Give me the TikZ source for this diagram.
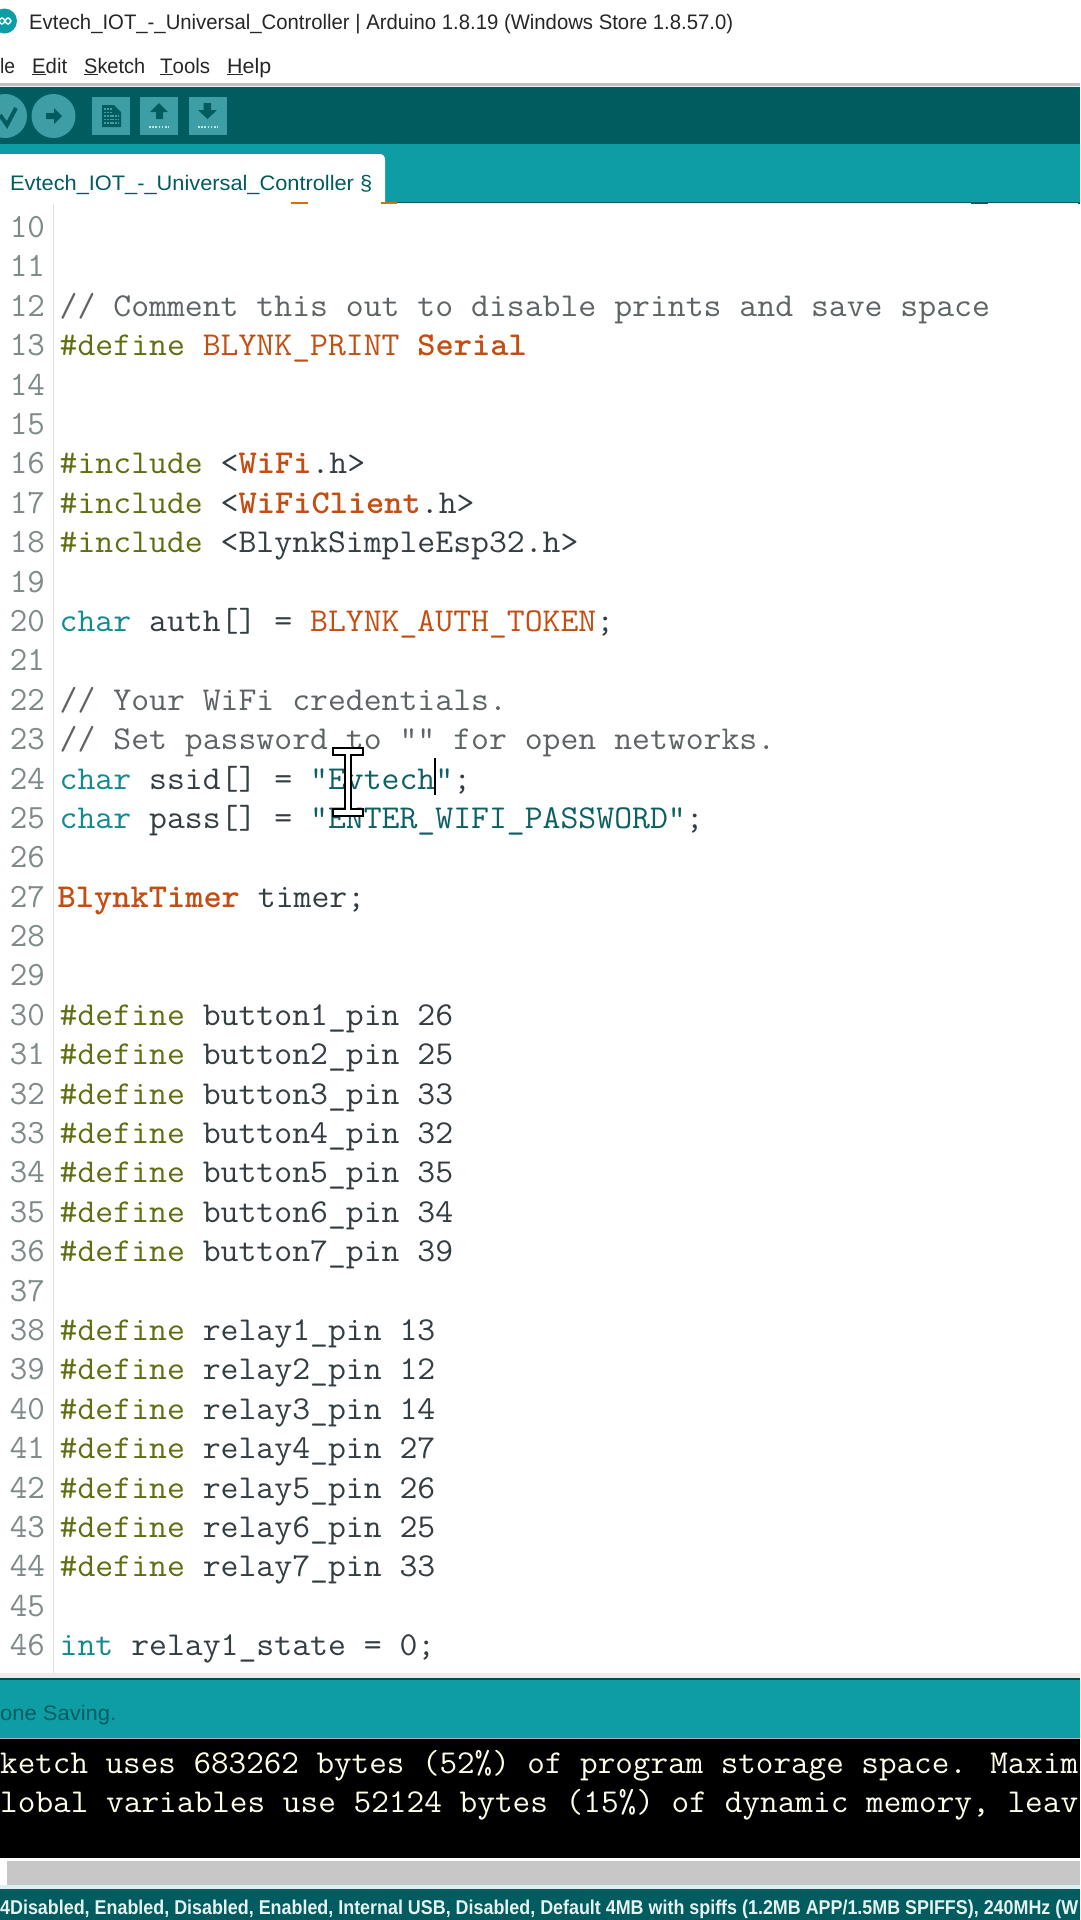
\documentclass[tikz,border=0pt]{standalone}
\usepackage{fontspec}
\usepackage{graphicx}
\setmainfont{Liberation Sans}
\definecolor{tealdark}{HTML}{005C5F}
\definecolor{tealmain}{HTML}{0F9DA5}
\definecolor{tealbtn}{HTML}{3D9FA5}
\definecolor{cdark}{HTML}{333D42}
\definecolor{ccomment}{HTML}{5E6466}
\definecolor{cnum}{HTML}{808A8A}
\definecolor{colive}{HTML}{5F6E10}
\definecolor{corange}{HTML}{C44E12}
\definecolor{cteal}{HTML}{118A90}
\definecolor{cstr}{HTML}{0F6062}
\newcommand{\fitw}[2]{\resizebox{#1pt}{\height}{#2}}
\newcommand{\Cm}[1]{\textcolor{ccomment}{#1}}
\newcommand{\Def}[1]{\textcolor{colive}{#1}}
\newcommand{\Org}[1]{\textcolor{corange}{#1}}
\newcommand{\Bld}[1]{\textcolor{corange}{\bfseries #1}}
\newcommand{\Tl}[1]{\textcolor{cteal}{#1}}
\newcommand{\Str}[1]{\textcolor{cstr}{#1}}
\newcommand{\codeline}[2]{%
  \node[numtext] (num#1) at (45,{789+(#1-24)*39.39}) {#1};
  \node[codetext] (code#1) at (59.5,{789+(#1-24)*39.39}) {\scalebox{1.04}[1]{#2}};}
\tikzset{
  numtext/.style={anchor=base east,inner sep=0,text=cnum,font=\ttfamily\fontsize{34}{36}\selectfont},
  codetext/.style={anchor=base west,inner sep=0,text=cdark,font=\ttfamily\fontsize{33.4}{36}\selectfont},
  consoletext/.style={anchor=base west,inner sep=0,text=white!90!yellow,font=\ttfamily\fontsize{33.4}{36}\selectfont},
  uitext/.style={anchor=base west,inner sep=0,text=black!85,font=\fontsize{21}{24}\selectfont},
  toolbtn/.style={fill=tealbtn,draw=none},
  toolicon/.style={fill=tealdark,draw=none}
}
\begin{document}
\begin{tikzpicture}[x=1pt,y=-1pt]
\useasboundingbox (0,0) rectangle (1080,1920);
\clip (0,0) rectangle (1080,1920);
\fill[white] (0,0) rectangle (1080,1920);
% title bar
\fill[tealmain] (4.5,21) circle (12.5);
\draw[white,line width=1.4] (-1,21) .. controls (1,17) and (3,17) .. (5,21) .. controls (7,25) and (9,25) .. (11,21) .. controls (9,17) and (7,17) .. (5,21) .. controls (3,25) and (1,25) .. (-1,21);
\node[uitext] (title) at (29,29) {\fitw{704}{Evtech\_IOT\_-\_Universal\_Controller | Arduino 1.8.19 (Windows Store 1.8.57.0)}};
% menu
\node[uitext] (mfile) at (0,73) {\fitw{15}{le}};
\node[uitext] (medit) at (32,73) {\fitw{35}{\underline{E}dit}};
\node[uitext] (msketch) at (84,73) {\fitw{61}{\underline{S}ketch}};
\node[uitext] (mtools) at (160,73) {\fitw{50}{\underline{T}ools}};
\node[uitext] (mhelp) at (227,73) {\fitw{44}{\underline{H}elp}};
\fill[black!25] (0,83) rectangle (1080,85.5);
\fill[black!5] (0,85.5) rectangle (1080,87);
% toolbar
\fill[tealdark] (0,87) rectangle (1080,144);
\fill[tealmain] (0,144) rectangle (1080,202);
\fill[toolbtn] (5,116) circle (22);
\fill[toolbtn] (53.5,116) circle (22);
\draw[tealdark,line width=4] (0,115) -- (7,125) -- (16,108);
\fill[toolicon] (46,113) -- (54,113) -- (54,108) -- (62,116) -- (54,124) -- (54,119) -- (46,119) -- cycle;
\fill[toolbtn] (92,97) rectangle (129.5,135);
\fill[toolbtn] (140,97) rectangle (178,135);
\fill[toolbtn] (188.5,97) rectangle (226.5,135);
\fill[tealdark] (102,105) -- (114,105) -- (121,112) -- (121,127) -- (102,127) -- cycle;
\foreach \yy in {109,112.5,116,119.5,123} \draw[tealbtn,line width=1.6,dash pattern=on 1.6pt off 1.4pt] (104,\yy) -- (112,\yy);
\foreach \yy in {116,119.5,123} \draw[tealbtn,line width=1.6,dash pattern=on 1.6pt off 1.4pt] (112,\yy) -- (119,\yy);
\fill[toolicon] (159,103) -- (168,112) -- (163,112) -- (163,119) -- (156,119) -- (156,112) -- (150,112) -- cycle;
\draw[white!70!tealbtn,line width=1.2,dash pattern=on 1.6pt off 1.6pt] (149,127) -- (169,127);
\fill[toolicon] (207.5,119) -- (198,110) -- (203.5,110) -- (203.5,103) -- (211,103) -- (211,110) -- (217,110) -- cycle;
\draw[white!70!tealbtn,line width=1.2,dash pattern=on 1.6pt off 1.6pt] (198,127) -- (218,127);
% tab
\fill[white] (0,154) -- (379,154) .. controls (383,154) and (385,156) .. (385,160) -- (385,202.5) -- (0,202.5) -- cycle;
\node[uitext,text=tealdark] (tabtitle) at (10,190) {\fitw{362}{Evtech\_IOT\_-\_Universal\_Controller §}};
\fill[tealdark] (385,202) rectangle (1080,203);
\fill[corange!80!yellow] (291,202) rectangle (308,204);
\fill[corange!80!yellow] (381,202) rectangle (397,204);
\fill[tealdark] (971,202) rectangle (988,204);
\fill[tealdark] (1078,202) rectangle (1080,204);
% gutter
\draw[black!12,line width=1] (53.5,204) -- (53.5,1673);
% code
\codeline{10}{}
\codeline{11}{}
\codeline{12}{\Cm{// Comment this out to disable prints and save space}}
\codeline{13}{\Def{\#define} \Org{BLYNK\_PRINT} \Bld{Serial}}
\codeline{14}{}
\codeline{15}{}
\codeline{16}{\Def{\#include} <\Bld{WiFi}.h>}
\codeline{17}{\Def{\#include} <\Bld{WiFiClient}.h>}
\codeline{18}{\Def{\#include} <BlynkSimpleEsp32.h>}
\codeline{19}{}
\codeline{20}{\Tl{char} auth[] = \Org{BLYNK\_AUTH\_TOKEN};}
\codeline{21}{}
\codeline{22}{\Cm{// Your WiFi credentials.}}
\codeline{23}{\Cm{// Set password to "" for open networks.}}
\codeline{24}{\Tl{char} ssid[] = \Str{"Evtech"};}
\codeline{25}{\Tl{char} pass[] = \Str{"ENTER\_WIFI\_PASSWORD"};}
\codeline{26}{}
\codeline{27}{\hspace*{-2pt}\Bld{BlynkTimer} timer;}
\codeline{28}{}
\codeline{29}{}
\codeline{30}{\Def{\#define} button1\_pin 26}
\codeline{31}{\Def{\#define} button2\_pin 25}
\codeline{32}{\Def{\#define} button3\_pin 33}
\codeline{33}{\Def{\#define} button4\_pin 32}
\codeline{34}{\Def{\#define} button5\_pin 35}
\codeline{35}{\Def{\#define} button6\_pin 34}
\codeline{36}{\Def{\#define} button7\_pin 39}
\codeline{37}{}
\codeline{38}{\Def{\#define} relay1\_pin 13}
\codeline{39}{\Def{\#define} relay2\_pin 12}
\codeline{40}{\Def{\#define} relay3\_pin 14}
\codeline{41}{\Def{\#define} relay4\_pin 27}
\codeline{42}{\Def{\#define} relay5\_pin 26}
\codeline{43}{\Def{\#define} relay6\_pin 25}
\codeline{44}{\Def{\#define} relay7\_pin 33}
\codeline{45}{}
\codeline{46}{\Tl{int} relay1\_state = 0;}
% caret and I-beam cursor
\fill[black] (434.2,758) rectangle (436.2,795);
\fill[white,draw=black,line width=2.4] (333,748) -- (363,748) -- (363,755) -- (351,755) -- (351,809) -- (363,809) -- (363,816) -- (333,816) -- (333,809) -- (345,809) -- (345,755) -- (333,755) -- cycle;
% bottom panels
\fill[black!8] (0,1673) rectangle (1080,1678);
\fill[tealdark!80!black] (0,1678) rectangle (1080,1680);
\fill[tealmain] (0,1680) rectangle (1080,1738);
\fill[black] (0,1739) rectangle (1080,1858);
\fill[black!30] (0,1738) rectangle (1080,1739);
\fill[white] (0,1858) rectangle (1080,1861);
\fill[black!22] (7,1861) rectangle (1080,1885);
\fill[tealmain!15] (0,1885) rectangle (1080,1889);
\fill[tealdark] (0,1889) rectangle (1080,1920);
\node[uitext,text=tealdark] (status) at (0,1720) {\fitw{116}{one Saving.}};
\node[consoletext] (con1) at (0,1773) {\fitw{1078}{ketch uses 683262 bytes (52\%) of program storage space. Maxim}};
\node[consoletext] (con2) at (0,1812) {\fitw{1078}{lobal variables use 52124 bytes (15\%) of dynamic memory, leav}};
\node[uitext,text=white!90!teal,font=\bfseries\fontsize{20}{22}\selectfont] (board) at (0,1914) {\fitw{1078}{4Disabled, Enabled, Disabled, Enabled, Internal USB, Disabled, Default 4MB with spiffs (1.2MB APP/1.5MB SPIFFS), 240MHz (W}};
\end{tikzpicture}
\end{document}
